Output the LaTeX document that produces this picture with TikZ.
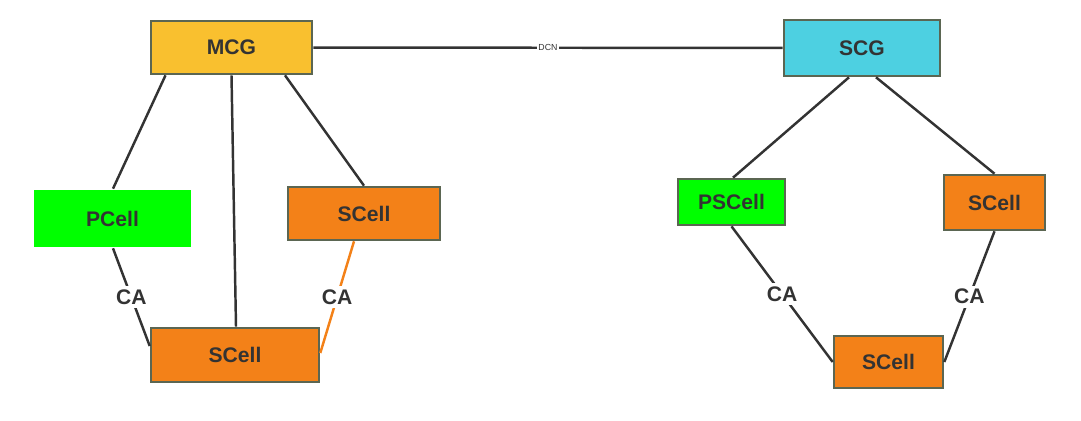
\documentclass[tikz,border=0pt]{standalone}
\usepackage{fontspec}
\setmainfont{Liberation Sans}
\usetikzlibrary{positioning}
\definecolor{edgegray}{HTML}{333333}
\definecolor{boxline}{HTML}{5B6652}
\definecolor{mcgfill}{HTML}{F9C02F}
\definecolor{scgfill}{HTML}{4DD0E1}
\definecolor{cellgreen}{HTML}{00FF00}
\definecolor{cellorange}{HTML}{F38118}
\tikzset{
  cell/.style={ % boxes for the cell groups
    rectangle,draw=boxline,line width=1.5pt,
    font=\bfseries\large,text=edgegray,
    inner sep=0pt,
  },
  link/.style={ % connecting lines
    draw=edgegray,line width=1.4pt,
  },
  ca/.style={ % carrier aggregation labels
    fill=white,font=\bfseries\large,text=edgegray,inner sep=2pt,
  },
}
\begin{document}
\begin{tikzpicture}[x=0.02cm,y=-0.02cm]
  \useasboundingbox (0,0) rectangle (1081,421);
  % groups
  \node[cell,fill=mcgfill,minimum width=3.22cm,minimum height=1.06cm] (mcg) at (231.5,47.5) {MCG};
  \node[cell,fill=scgfill,minimum width=3.12cm,minimum height=1.12cm] (scg) at (862,48) {SCG};
  % master side
  \node[cell,fill=cellgreen,draw=none,minimum width=3.14cm,minimum height=1.14cm] (pcell) at (112.5,218.5) {PCell};
  \node[cell,fill=cellorange,minimum width=3.04cm,minimum height=1.06cm] (scella) at (364,213.5) {SCell};
  \node[cell,fill=cellorange,minimum width=3.36cm,minimum height=1.08cm] (scellb) at (235,355) {SCell};
  % secondary side
  \node[cell,fill=cellgreen,minimum width=2.14cm,minimum height=0.92cm] (pscell) at (731.5,202) {PSCell};
  \node[cell,fill=cellorange,minimum width=2.02cm,minimum height=1.1cm] (scellc) at (994.5,202.5) {SCell};
  \node[cell,fill=cellorange,minimum width=2.18cm,minimum height=1.04cm] (scelld) at (888.5,362) {SCell};

  \path[link] (mcg) -- node[fill=white,inner sep=1pt,font=\tiny,text=edgegray] {DCN} (scg);
  \path[link] ([xshift=-1.32cm]mcg.south) -- ([xshift=0.01cm]pcell.north);
  \path[link] (mcg.south) -- ([xshift=0.02cm]scellb.north);
  \path[link] ([xshift=1.07cm]mcg.south) -- (scella.north);
  \path[link] ([xshift=0.01cm]pcell.south) -- node[ca,pos=0.5] {CA} ([yshift=0.18cm]scellb.west);
  \path[link,draw=cellorange] ([xshift=-0.2cm]scella.south) -- node[ca,pos=0.5] {CA} ([yshift=0.04cm]scellb.east);
  \path[link] ([xshift=-0.26cm]scg.south) -- ([xshift=0.03cm]pscell.north);
  \path[link] ([xshift=0.28cm]scg.south) -- (scellc.north);
  \path[link] (pscell.south) -- node[ca,pos=0.5] {CA} (scelld.west);
  \path[link] (scellc.south) -- node[ca,pos=0.5] {CA} (scelld.east);
\end{tikzpicture}
\end{document}
